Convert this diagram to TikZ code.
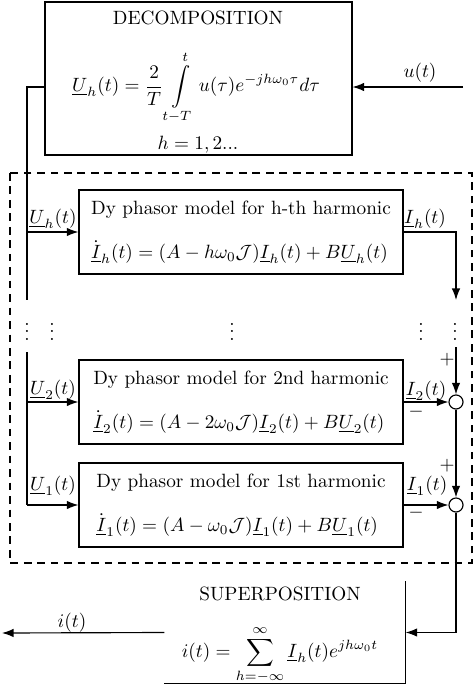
\documentclass[tikz,border=0pt]{standalone}
\usepackage{amsmath,amssymb}
\usetikzlibrary{arrows.meta}

\begin{document}
\begin{tikzpicture}[x=0.52pt,y=-0.52pt,semithick,>={Latex[length=6pt,width=4.4pt]},
  model/.style={draw, minimum width=168.5pt, minimum height=43.7pt, align=left, inner sep=3pt},
  sumnode/.style={draw, circle, minimum size=7.3pt, inner sep=0pt}]
\useasboundingbox (0,0) rectangle (474,686);

\node[draw, minimum width=159.6pt, minimum height=79.6pt] (decomp) at (198.5,78.5) {};
\node (dectitle) at (198,18) {DECOMPOSITION};
\node (deceq) at (196,88) {$\displaystyle \underline{U}_h(t)=\frac{2}{T}\int\limits_{t-T}^{t}u(\tau)e^{-jh\omega_0\tau}d\tau$};
\node (decidx) at (198,145) {$h=1,2...$};

\draw[dash pattern=on 4pt off 3pt] (10,173) rectangle (472,563);

\node[model] (hbox) at (241,232) {Dy phasor model for h-th harmonic\\[11pt] $\dot{\underline{I}}_h(t)=(A-h\omega_0\mathcal{J})\underline{I}_h(t)+B\underline{U}_h(t)$};
\node[model] (box2) at (241,402) {Dy phasor model for 2nd harmonic\\[11pt] $\dot{\underline{I}}_2(t)=(A-2\omega_0\mathcal{J})\underline{I}_2(t)+B\underline{U}_2(t)$};
\node[model] (box1) at (241,505) {Dy phasor model for 1st harmonic\\[11pt] $\dot{\underline{I}}_1(t)=(A-\omega_0\mathcal{J})\underline{I}_1(t)+B\underline{U}_1(t)$};

\node[sumnode] (sum2) at (456,402) {};
\node[sumnode] (sum1) at (456,505) {};

\node[minimum width=124.8pt, minimum height=52.5pt] (sumbox) at (285,632.5) {};
\draw (sumbox.north east) -- (sumbox.south east) -- (sumbox.south west);
\node (suptitle) at (280,594) {SUPERPOSITION};
\node (supeq) at (280,655) {$\displaystyle i(t)=\sum_{h=-\infty}^{\infty}\underline{I}_h(t)e^{jh\omega_0t}$};

\coordinate (uin) at (463,87);
\coordinate (iout) at (2,633);
\coordinate (bustop) at (27,87);
\coordinate (busgap) at (27,300);
\coordinate (busgo) at (27,352);
\coordinate (hbus) at (27,232);
\coordinate (b2) at (27,402);
\coordinate (b1) at (27,505);
\coordinate (hend) at (456,300);
\coordinate (hgo) at (456,347);

\draw[->] (uin) -- (uin -| decomp.east);
\draw (bustop -| decomp.west) -- (bustop) -- (busgap);
\draw[->] (hbus) -- (hbox.west);
\draw (busgo) -- (b1);
\draw[->] (b2) -- (box2.west);
\draw[->] (b1) -- (box1.west);
\draw[->] (hbox.east) -| (hend);
\draw[->] (hgo) -- (sum2.north);
\draw[->] (box2.east) -- (sum2.west);
\draw[->] (sum2.south) -- (sum1.north);
\draw[->] (box1.east) -- (sum1.west);
\draw[->] (sum1.south) |- (sumbox.east);
\draw[->] (sumbox.west) -- (iout);

\node (ulab) at (420,73) {$u(t)$};
\node (uhlab) at (53,219) {$\underline{U}_h(t)$};
\node (u2lab) at (53,390) {$\underline{U}_2(t)$};
\node (u1lab) at (53,486) {$\underline{U}_1(t)$};
\node (ihlab) at (425,219) {$\underline{I}_h(t)$};
\node (i2lab) at (426,391) {$\underline{I}_2(t)$};
\node (i1lab) at (427,486) {$\underline{I}_1(t)$};
\node (plus2) at (447,360) {$+$};
\node (plus1) at (447,466) {$+$};
\node (minus2) at (416,412) {$-$};
\node (minus1) at (416,513) {$-$};
\node (ilab) at (72,623) {$i(t)$};
\foreach \x in {27,52,232,421,455}
  \node (dots\x) at (\x,326) {$\vdots$};
\end{tikzpicture}
\end{document}
